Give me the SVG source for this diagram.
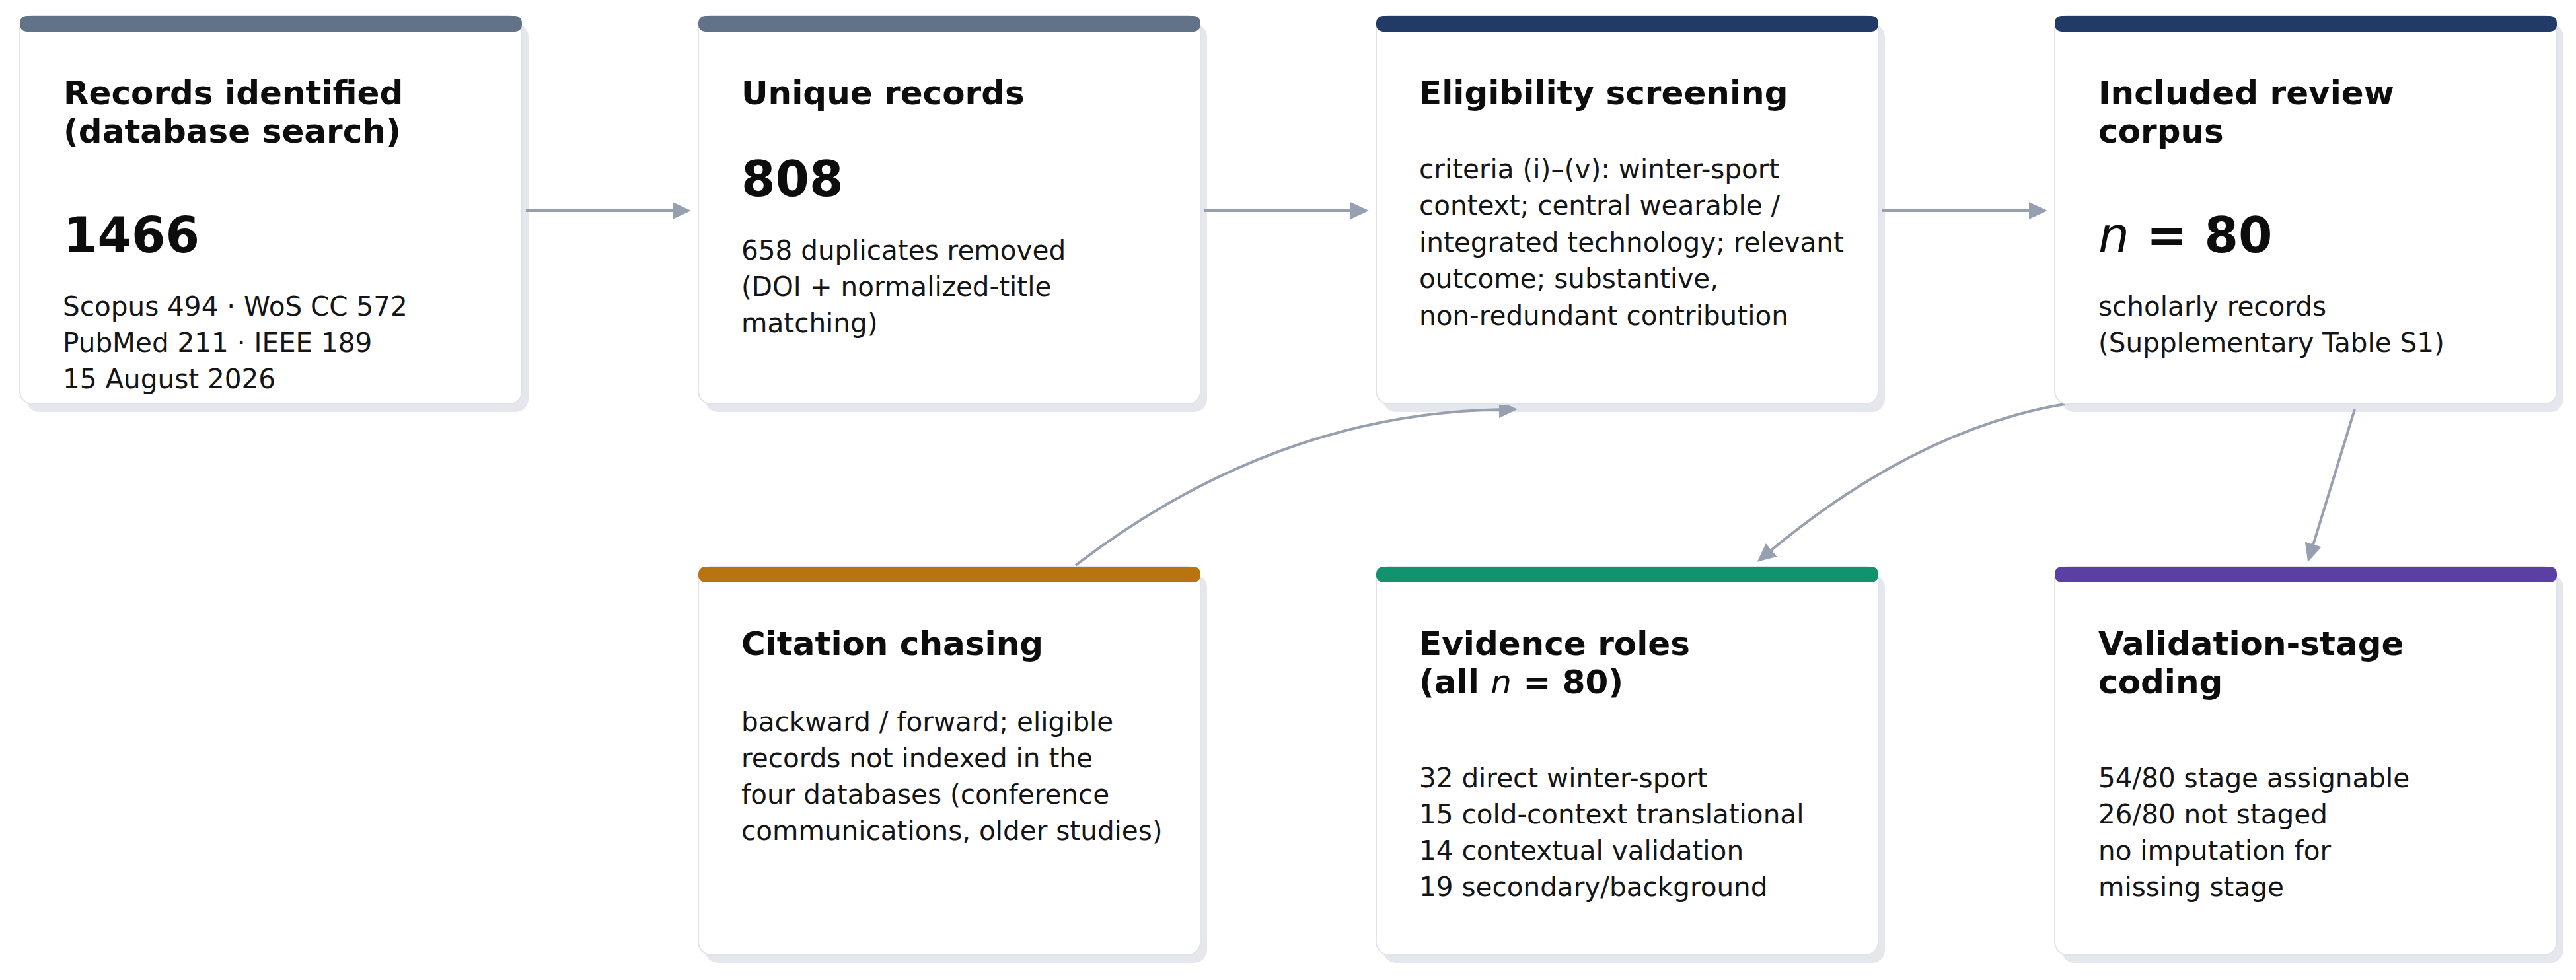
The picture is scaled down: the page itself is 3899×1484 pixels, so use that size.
<svg xmlns="http://www.w3.org/2000/svg" width="3899" height="1484" viewBox="0 0 3899 1484">
<defs>
<style>
.shadow{fill:#e5e7ec}
.card{fill:#ffffff;stroke:#dfe3ea;stroke-width:2}
.t{font-family:"DejaVu Sans","Liberation Sans",sans-serif;fill:#0d0d0d}
.title{font-size:50px;font-weight:bold}
.num{font-size:74px;font-weight:bold}
.body{font-size:40.5px;fill:#151515}
.it{font-style:italic;font-weight:normal}
.conn{fill:none;stroke:#97a0b0;stroke-width:4}
</style>
<marker id="ah" markerUnits="userSpaceOnUse" markerWidth="28" markerHeight="26" viewBox="0 0 28 26" refX="8" refY="13" orient="auto">
<path d="M0,0 L28,13 L0,26 z" fill="#97a0b0"/>
</marker>
</defs>
<rect width="3899" height="1484" fill="#ffffff"/>

<g id="card-shadows">
<rect class="shadow" x="40" y="36" width="760" height="588" rx="20"/>
<rect class="shadow" x="1067" y="36" width="760" height="588" rx="20"/>
<rect class="shadow" x="2093" y="36" width="760" height="588" rx="20"/>
<rect class="shadow" x="3120" y="36" width="760" height="588" rx="20"/>
<rect class="shadow" x="1067" y="870" width="760" height="588" rx="20"/>
<rect class="shadow" x="2093" y="870" width="760" height="588" rx="20"/>
<rect class="shadow" x="3120" y="870" width="760" height="588" rx="20"/>
</g>

<g id="connectors">
<path class="conn" d="M796,319 L1026,319" marker-end="url(#ah)"/>
<path class="conn" d="M1823,319 L2052,319" marker-end="url(#ah)"/>
<path class="conn" d="M2849,319 L3079,319" marker-end="url(#ah)"/>
<path class="conn" d="M1628,856 Q1930,625 2277,620" marker-end="url(#ah)"/>
<path class="conn" d="M3125,612 Q2900,650 2675,838" marker-end="url(#ah)"/>
<path class="conn" d="M3564,620 L3499,832" marker-end="url(#ah)"/>
</g>

<g id="node-records-identified">
<rect class="card" x="30" y="24" width="760" height="588" rx="20"/>
<rect x="30" y="24" width="760" height="24" rx="10" fill="#637387"/>
<text class="t title" x="96"><tspan x="96" y="158">Records identified</tspan><tspan x="96" y="216">(database search)</tspan></text>
<text class="t num" x="96" y="382">1466</text>
<text class="t body" x="95"><tspan x="95" y="478">Scopus 494 · WoS CC 572</tspan><tspan x="95" y="533">PubMed 211 · IEEE 189</tspan><tspan x="95" y="588">15 August 2026</tspan></text>
</g>

<g id="node-unique-records">
<rect class="card" x="1057" y="24" width="760" height="588" rx="20"/>
<rect x="1057" y="24" width="760" height="24" rx="10" fill="#637387"/>
<text class="t title" x="1122" y="158">Unique records</text>
<text class="t num" x="1122" y="297">808</text>
<text class="t body" x="1122"><tspan x="1122" y="393">658 duplicates removed</tspan><tspan x="1122" y="448">(DOI + normalized-title</tspan><tspan x="1122" y="503">matching)</tspan></text>
</g>

<g id="node-eligibility">
<rect class="card" x="2083" y="24" width="760" height="588" rx="20"/>
<rect x="2083" y="24" width="760" height="24" rx="10" fill="#213a66"/>
<text class="t title" x="2148" y="158">Eligibility screening</text>
<text class="t body" x="2148"><tspan x="2148" y="270">criteria (i)–(v): winter-sport</tspan><tspan x="2148" y="325">context; central wearable /</tspan><tspan x="2148" y="381">integrated technology; relevant</tspan><tspan x="2148" y="436">outcome; substantive,</tspan><tspan x="2148" y="492">non-redundant contribution</tspan></text>
</g>

<g id="node-included-corpus">
<rect class="card" x="3110" y="24" width="760" height="588" rx="20"/>
<rect x="3110" y="24" width="760" height="24" rx="10" fill="#213a66"/>
<text class="t title" x="3176"><tspan x="3176" y="158">Included review</tspan><tspan x="3176" y="216">corpus</tspan></text>
<text class="t num" x="3176" y="382"><tspan class="it">n</tspan> = 80</text>
<text class="t body" x="3176"><tspan x="3176" y="478">scholarly records</tspan><tspan x="3176" y="533">(Supplementary Table S1)</tspan></text>
</g>

<g id="node-citation-chasing">
<rect class="card" x="1057" y="858" width="760" height="588" rx="20"/>
<rect x="1057" y="858" width="760" height="24" rx="10" fill="#b8740f"/>
<text class="t title" x="1122" y="992">Citation chasing</text>
<text class="t body" x="1122"><tspan x="1122" y="1107">backward / forward; eligible</tspan><tspan x="1122" y="1162">records not indexed in the</tspan><tspan x="1122" y="1217">four databases (conference</tspan><tspan x="1122" y="1272">communications, older studies)</tspan></text>
</g>

<g id="node-evidence-roles">
<rect class="card" x="2083" y="858" width="760" height="588" rx="20"/>
<rect x="2083" y="858" width="760" height="24" rx="10" fill="#11946e"/>
<text class="t title" x="2148"><tspan x="2148" y="992">Evidence roles</tspan><tspan x="2148" y="1050">(all <tspan class="it">n</tspan> = 80)</tspan></text>
<text class="t body" x="2148"><tspan x="2148" y="1192">32 direct winter-sport</tspan><tspan x="2148" y="1247">15 cold-context translational</tspan><tspan x="2148" y="1302">14 contextual validation</tspan><tspan x="2148" y="1357">19 secondary/background</tspan></text>
</g>

<g id="node-validation-stage">
<rect class="card" x="3110" y="858" width="760" height="588" rx="20"/>
<rect x="3110" y="858" width="760" height="24" rx="10" fill="#5b3fa5"/>
<text class="t title" x="3176"><tspan x="3176" y="992">Validation-stage</tspan><tspan x="3176" y="1050">coding</tspan></text>
<text class="t body" x="3176"><tspan x="3176" y="1192">54/80 stage assignable</tspan><tspan x="3176" y="1247">26/80 not staged</tspan><tspan x="3176" y="1302">no imputation for</tspan><tspan x="3176" y="1357">missing stage</tspan></text>
</g>
</svg>
